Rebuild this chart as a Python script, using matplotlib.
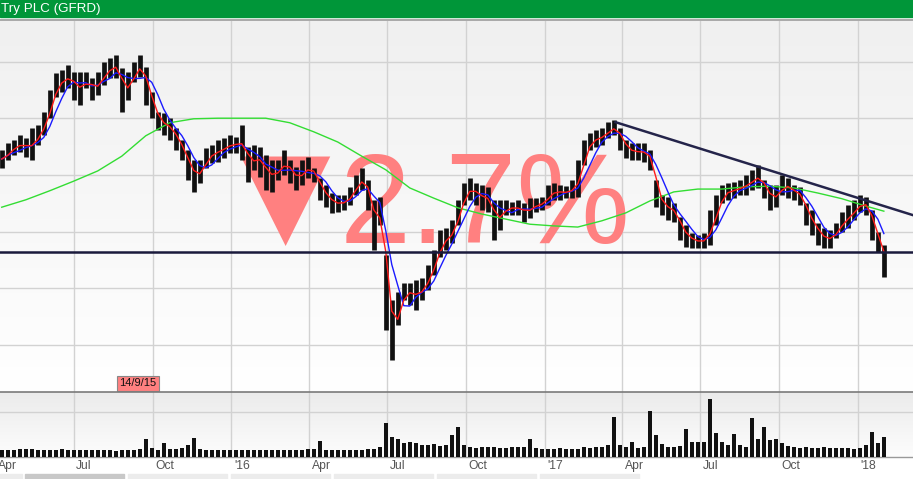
import numpy as np
import pandas as pd
import matplotlib
matplotlib.use("Agg")
import matplotlib.pyplot as plt
import matplotlib.transforms as mtransforms
from matplotlib.colors import LinearSegmentedColormap
from matplotlib.patches import Rectangle
from matplotlib.lines import Line2D

plt.rcParams['font.family'] = ['Liberation Sans', 'DejaVu Sans']

title = "Try PLC (GFRD)"

# weekly price ranges (pence), one bar per week starting 8 Apr 2015
weeks = pd.date_range("2015-04-08", periods=148, freq="7D")
hi = [1344, 1356, 1362, 1370, 1365, 1383, 1388, 1411, 1450, 1480,
      1485, 1494, 1482, 1482, 1482, 1471, 1482, 1499, 1506, 1512,
      1489, 1482, 1499, 1512, 1490, 1446, 1411, 1409, 1400, 1383,
      1362, 1344, 1326, 1326, 1347, 1353, 1362, 1365, 1370, 1367,
      1388, 1349, 1353, 1349, 1335, 1326, 1326, 1344, 1326, 1314,
      1326, 1332, 1312, 1295, 1282, 1268, 1265, 1265, 1279, 1300,
      1312, 1291, 1256, 1261, 1159, 1079, 1093, 1109, 1109, 1115,
      1118, 1141, 1168, 1203, 1206, 1221, 1256, 1286, 1295, 1286,
      1282, 1279, 1256, 1256, 1256, 1252, 1256, 1250, 1259, 1259,
      1261, 1282, 1286, 1282, 1280, 1291, 1326, 1362, 1374, 1379,
      1383, 1393, 1397, 1383, 1362, 1356, 1356, 1356, 1344, 1291,
      1265, 1261, 1250, 1226, 1212, 1198, 1194, 1198, 1238, 1265,
      1282, 1286, 1288, 1291, 1300, 1309, 1318, 1291, 1282, 1282,
      1300, 1295, 1282, 1279, 1250, 1238, 1215, 1206, 1203, 1215,
      1235, 1247, 1256, 1265, 1261, 1238, 1199, 1176]
lo = [1312, 1326, 1335, 1340, 1332, 1326, 1353, 1370, 1400, 1437,
      1446, 1453, 1432, 1423, 1453, 1432, 1441, 1459, 1471, 1471,
      1411, 1432, 1464, 1473, 1423, 1400, 1379, 1370, 1362, 1344,
      1326, 1291, 1270, 1286, 1312, 1321, 1323, 1330, 1339, 1339,
      1326, 1288, 1309, 1296, 1273, 1270, 1291, 1300, 1286, 1273,
      1282, 1295, 1288, 1256, 1243, 1233, 1235, 1238, 1247, 1265,
      1273, 1238, 1168, 1212, 1026, 974, 1035, 1079, 1071, 1062,
      1079, 1097, 1123, 1155, 1168, 1180, 1212, 1247, 1256, 1247,
      1238, 1235, 1185, 1203, 1229, 1229, 1229, 1217, 1224, 1235,
      1238, 1247, 1256, 1256, 1259, 1259, 1261, 1318, 1344, 1349,
      1353, 1365, 1370, 1344, 1330, 1326, 1326, 1323, 1309, 1243,
      1229, 1221, 1217, 1185, 1173, 1171, 1171, 1171, 1176, 1212,
      1250, 1256, 1259, 1265, 1265, 1273, 1277, 1259, 1238, 1243,
      1265, 1259, 1256, 1247, 1212, 1194, 1176, 1171, 1171, 1189,
      1199, 1206, 1221, 1235, 1229, 1185, 1164, 1120]

# volume, thousands of shares
vol = [155, 150, 160, 170, 180, 175, 165, 160, 155, 150,
       170, 160, 165, 155, 150, 145, 160, 150, 145, 140,
       150, 145, 155, 178, 400, 200, 155, 311, 178, 178,
       200, 266, 422, 178, 155, 150, 145, 150, 160, 155,
       150, 145, 150, 155, 160, 150, 145, 155, 165, 155,
       160, 175, 170, 355, 160, 155, 150, 155, 160, 150,
       165, 170, 180, 222, 755, 444, 400, 311, 333, 311,
       266, 266, 289, 244, 266, 488, 666, 266, 222, 210,
       222, 215, 222, 200, 210, 222, 215, 222, 400, 190,
       180, 185, 178, 190, 180, 170, 185, 222, 200, 222,
       222, 266, 888, 266, 222, 333, 200, 222, 1022, 488,
       289, 222, 222, 244, 622, 333, 333, 333, 1288, 533,
       333, 266, 511, 266, 222, 866, 400, 666, 377, 400,
       311, 244, 222, 210, 215, 200, 210, 222, 205, 200,
       210, 195, 185, 200, 266, 555, 311, 444]

# 200 day average, read every 4 weeks
ma200_idx = list(range(0, 148, 4)) + [147]
ma200 = [1243, 1256, 1272, 1289, 1307, 1333, 1369, 1392, 1399, 1400,
         1400, 1400, 1392, 1376, 1358, 1333, 1309, 1277, 1259, 1242,
         1231, 1222, 1213, 1210, 1208, 1219, 1233, 1254, 1270, 1275,
         1275, 1279, 1280, 1277, 1268, 1258, 1245, 1236]

support = 1164
trend_dates = pd.to_datetime(["2017-03-24", "2018-03-06"])
trend_vals = [1393, 1229]

tick_dates = pd.date_range("2015-04-01", "2018-01-01", freq="QS")
tick_labels = ["Apr", "Jul", "Oct", "'16", "Apr", "Jul", "Oct", "'17",
               "Apr", "Jul", "Oct", "'18"]
marker_date = pd.Timestamp("2015-09-14")
marker_text = "14/9/15"
arrow_text = "\u25bc"
change_text = "2.7%"

W, H = 913, 479
fig = plt.figure(figsize=(W / 100, H / 100), dpi=100)
ax = fig.add_axes([0, (H - 392) / H, 1, 371 / H])
axv = fig.add_axes([0, (H - 457) / H, 1, 65 / H], sharex=ax)

grad = np.linspace(0, 1, 256).reshape(-1, 1)
cm_p = LinearSegmentedColormap.from_list("p", ["#ffffff", "#f0f0f0"])
cm_v = LinearSegmentedColormap.from_list("v", ["#fdfdfd", "#ebebeb"])
ax.imshow(grad, extent=[0, 1, 0, 1], transform=ax.transAxes, cmap=cm_p,
          aspect="auto", origin="lower", zorder=0)
axv.imshow(grad, extent=[0, 1, 0, 1], transform=axv.transAxes, cmap=cm_v,
           aspect="auto", origin="lower", zorder=0)

# watermark
ax.text(285 / W, (392 - 244) / 371, arrow_text, transform=ax.transAxes,
        fontsize=110, color="#ff8080", ha="center", va="baseline", zorder=1)
ax.text(340 / W, (392 - 243) / 371, change_text, transform=ax.transAxes,
        fontsize=92, color="#ff8080", ha="left", va="baseline", zorder=1)

s = pd.Series((np.array(hi) + np.array(lo)) / 2)
red = s.rolling(2, min_periods=1).mean()
blue = s.rolling(4, min_periods=1).mean()

ax.vlines(weeks, lo, hi, color="#111111", lw=3.4, zorder=3)
ax.plot(weeks[ma200_idx], ma200, color="#33dd33", lw=1.0, zorder=4)
ax.plot(weeks, blue, color="#1a1aff", lw=1.0, zorder=4)
ax.plot(weeks, red, color="#ff1a1a", lw=1.0, zorder=5)
ax.axhline(support, color="#1a1a3c", lw=1.8, zorder=6)
ax.plot(trend_dates, trend_vals, color="#24244a", lw=1.8, zorder=6)

axv.bar(weeks, vol, width=5, color="#111111", zorder=3)

xmin, xmax = pd.Timestamp("2015-04-06"), pd.Timestamp("2018-03-06")
ax.set_xlim(xmin, xmax)
ax.set_ylim(917, 1571.5)
axv.set_ylim(0, 1444)

for a in (ax, axv):
    a.set_xticks(tick_dates[1:])
    a.tick_params(length=0, labelbottom=False, labelleft=False)
    a.grid(True, color="#d2d2d2", lw=1.0, zorder=1)
    a.set_axisbelow(True)
    for sp in a.spines.values():
        sp.set_visible(False)
ax.set_yticks(range(1000, 1600, 100))
axv.set_yticks([1000])
axv.spines["top"].set_visible(True)
axv.spines["top"].set_color("#7a7a7a")
axv.spines["top"].set_linewidth(1.2)
axv.spines["bottom"].set_visible(True)
axv.spines["bottom"].set_color("#9a9a9a")
axv.spines["bottom"].set_linewidth(1.0)

# date marker label
bt = mtransforms.blended_transform_factory(ax.transData, ax.transAxes)
ax.text(marker_date, 8.5 / 371, marker_text, transform=bt, ha="center",
        va="center", fontsize=8, color="#111111", zorder=7,
        bbox=dict(boxstyle="square,pad=0.2", fc="#ff8080", ec="#888888", lw=0.8))

# x tick labels
bv = mtransforms.blended_transform_factory(axv.transData, axv.transAxes)
bv = mtransforms.offset_copy(bv, fig=fig, x=2.5, y=-3, units="dots")
for d, lab in zip(tick_dates, tick_labels):
    axv.text(d, 0, lab, transform=bv, ha="left", va="top", fontsize=8.7,
             color="#555555", clip_on=False)

# title bar
fig.patches.append(Rectangle((0, 1 - 17 / H), 1, 17 / H, transform=fig.transFigure,
                             color="#009639", zorder=0))
fig.lines.append(Line2D([0, 1], [1 - 19.5 / H] * 2, transform=fig.transFigure,
                        color="#9a9a9a", lw=1.2))
fig.text(1 / W, 1 - 9 / H, title, color="white", fontsize=9.6,
         ha="left", va="center")

# scroller strip at the bottom
strip = [(0, 22, "#ececec"), (25, 124, "#c8c8c8"), (128, 227, "#ececec"),
         (231, 330, "#ececec"), (334, 433, "#ececec"), (437, 536, "#ececec"),
         (540, 639, "#ececec")]
for x0, x1, c in strip:
    fig.patches.append(Rectangle((x0 / W, 0), (x1 - x0) / W, 5 / H,
                                 transform=fig.transFigure, color=c, zorder=0))

fig.savefig("out.png", dpi=100)
